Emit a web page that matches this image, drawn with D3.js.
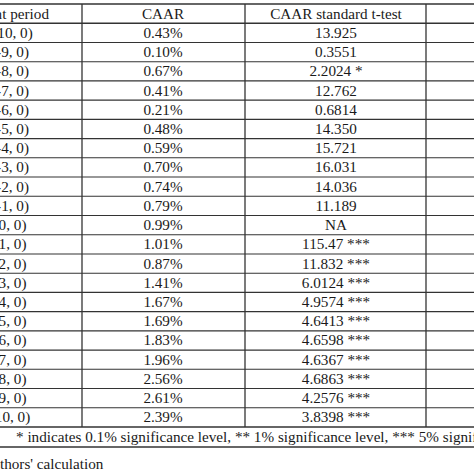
<!DOCTYPE html>
<html><head><meta charset="utf-8">
<script src="https://cdn.jsdelivr.net/npm/d3@7"></script>
<style>body{margin:0;background:#fff}text{font-family:"Liberation Serif","Times New Roman",serif;font-size:15.2px;fill:#1a1a1a}</style>
</head><body><svg id="c" width="474" height="474"></svg>
<script>
const headers = ["Event period","CAAR","CAAR standard t-test",""];
const periods = ["(-10, 0)","(-9, 0)","(-8, 0)","(-7, 0)","(-6, 0)","(-5, 0)","(-4, 0)","(-3, 0)","(-2, 0)","(-1, 0)","(0, 0)","(1, 0)","(2, 0)","(3, 0)","(4, 0)","(5, 0)","(6, 0)","(7, 0)","(8, 0)","(9, 0)","(10, 0)"];
const caar = ["0.43%","0.10%","0.67%","0.41%","0.21%","0.48%","0.59%","0.70%","0.74%","0.79%","0.99%","1.01%","0.87%","1.41%","1.67%","1.69%","1.83%","1.96%","2.56%","2.61%","2.39%"];
const ttest = ["13.925","0.3551","2.2024 *","12.762","0.6814","14.350","15.721","16.031","14.036","11.189","NA","115.47 ***","11.832 ***","6.0124 ***","4.9574 ***","4.6413 ***","4.6598 ***","4.6367 ***","4.6863 ***","4.2576 ***","3.8398 ***"];
const footnote = "* indicates 0.1% significance level, ** 1% significance level, *** 5% significance level";
const source = "Source: Authors' calculation";

const svg = d3.select("#c");
const rows = ["h", ...periods];
const y = d3.scaleBand().domain(rows).range([4, 427]);
const colEdges = [-60, 82, 245, 426, 560];
const colCenters = [10, 163, 336, 490];
const stroke = "#333";

const lineYs = rows.map(r => y(r)).concat([427, 447]);
svg.selectAll("line.h").data(lineYs).join("line")
  .attr("x1", 0).attr("x2", 474).attr("y1", d => d).attr("y2", d => d)
  .attr("stroke", stroke).attr("stroke-width", (d,i) => (i===0||i===1||i>=lineYs.length-2)?1.6:1.1);
svg.selectAll("line.v").data(colEdges.slice(1,4)).join("line")
  .attr("x1", d => d).attr("x2", d => d).attr("y1", 4).attr("y2", 427)
  .attr("stroke", stroke).attr("stroke-width", 1.3);

const cy = r => y(r) + y.bandwidth()/2 + 5;
headers.forEach((h,i) => svg.append("text").attr("x", colCenters[i]).attr("y", cy("h")).attr("text-anchor","middle").text(h));
[periods, caar, ttest].forEach((col, ci) => {
  svg.selectAll(null).data(col).join("text")
    .attr("x", colCenters[ci]).attr("y", (d,i) => cy(periods[i]))
    .attr("text-anchor","middle").text(d => d);
});
svg.append("text").attr("x", 16).attr("y", 442).text(footnote);
svg.append("text").attr("x", -68).attr("y", 469).text(source);
</script></body></html>
